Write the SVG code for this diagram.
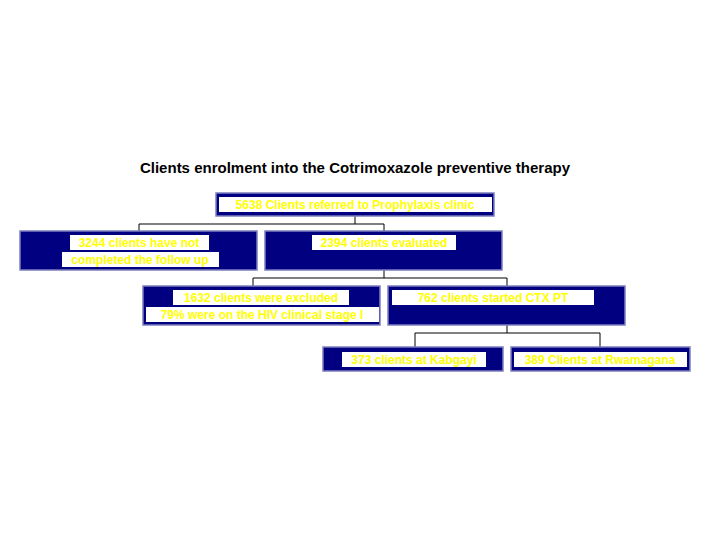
<svg xmlns="http://www.w3.org/2000/svg" width="720" height="540" viewBox="0 0 720 540">
<style>
.box{fill:#000080;stroke:#7f7fbf;stroke-width:1.5}
.bg{fill:#ffffff}
.t{font-family:"Liberation Sans",Arial,sans-serif;font-weight:bold;font-size:12px;fill:#ffff00;text-anchor:middle}
.c{fill:none;stroke:#000;stroke-width:1}
</style>
<rect width="720" height="540" fill="#fff"/>
<text x="355" y="173" style="font-family:'Liberation Sans',Arial,sans-serif;font-weight:bold;font-size:15px;fill:#000;text-anchor:middle">Clients enrolment into the Cotrimoxazole preventive therapy</text>
<g id="connectors">
<path class="c" d="M355 216V224M139 231V224H384V231"/>
<path class="c" d="M384 270V278M253 286V278H507V286"/>
<path class="c" d="M507 325V333M415 347V333H600V347"/>
</g>
<g id="n1"><rect class="box" x="216" y="193" width="278" height="23"/><rect class="bg" x="219" y="197" width="273" height="15"/><text class="t" x="355" y="209">5638 Clients referred to Prophylaxis clinic</text></g>
<g id="n2"><rect class="box" x="20" y="231" width="237" height="39"/><rect class="bg" x="70" y="235" width="139" height="15"/><rect class="bg" x="62" y="252" width="157" height="15"/><text class="t" x="139" y="247">3244 clients have not</text><text class="t" x="140" y="264">completed the follow up</text></g>
<g id="n3"><rect class="box" x="265" y="231" width="237" height="39"/><rect class="bg" x="312" y="235" width="144" height="15"/><text class="t" x="384" y="247">2394 clients evaluated</text></g>
<g id="n4"><rect class="box" x="143" y="286" width="237" height="39"/><rect class="bg" x="173" y="290" width="176" height="15"/><rect class="bg" x="146" y="307" width="233" height="15"/><text class="t" x="261" y="302">1632 clients were excluded</text><text class="t" x="262" y="319">79% were on the HIV clinical stage I</text></g>
<g id="n5"><rect class="box" x="388" y="286" width="237" height="39"/><rect class="bg" x="392" y="290" width="202" height="15"/><text class="t" x="493" y="302">762 clients started CTX PT</text></g>
<g id="n6"><rect class="box" x="323" y="347" width="180" height="24"/><rect class="bg" x="342" y="352" width="144" height="15"/><text class="t" x="414" y="364">373 clients at Kabgayi</text></g>
<g id="n7"><rect class="box" x="511" y="347" width="179" height="24"/><rect class="bg" x="514" y="352" width="173" height="15"/><text class="t" x="600" y="364">389 Clients at Rwamagana</text></g>
</svg>
